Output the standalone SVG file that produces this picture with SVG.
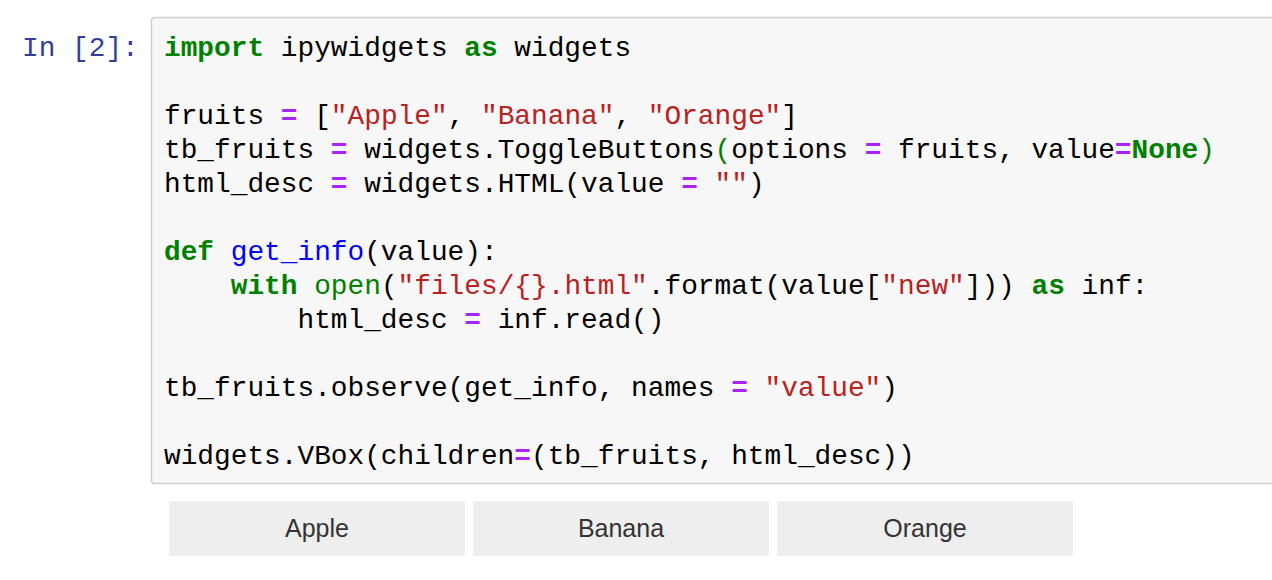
<svg xmlns="http://www.w3.org/2000/svg" width="1272" height="580" viewBox="0 0 1272 580">
<style>
.c{font-family:"Liberation Mono",monospace;font-size:27.8px;fill:#000;white-space:pre}
.k{fill:#008000;font-weight:bold}
.o{fill:#AA22FF;font-weight:bold}
.s{fill:#BA2121}
.f{fill:#0000FF}
.g{fill:#008000}
.btn{fill:#eeeeee}
.bt{font-family:"Liberation Sans",Arial,sans-serif;font-size:25px;fill:#333;text-anchor:middle}
</style>
<rect width="1272" height="580" fill="#fff"/>
<g id="prompt"><text x="22" y="56" class="c" style="fill:#303F9F">In [2]:</text></g>
<g id="cell">
<rect x="151.5" y="17.5" width="1130" height="466" rx="3" fill="#f7f7f7" stroke="#cfcfcf" stroke-width="1.5"/>
<text class="c" xml:space="preserve">
<tspan x="164" y="56"><tspan class="k">import</tspan> ipywidgets <tspan class="k">as</tspan> widgets</tspan>
<tspan x="164" y="124">fruits <tspan class="o">=</tspan> [<tspan class="s">"Apple"</tspan>, <tspan class="s">"Banana"</tspan>, <tspan class="s">"Orange"</tspan>]</tspan>
<tspan x="164" y="158">tb_fruits <tspan class="o">=</tspan> widgets.ToggleButtons<tspan class="g">(</tspan>options <tspan class="o">=</tspan> fruits, value<tspan class="o">=</tspan><tspan class="k">None</tspan><tspan class="g">)</tspan></tspan>
<tspan x="164" y="192">html_desc <tspan class="o">=</tspan> widgets.HTML(value <tspan class="o">=</tspan> <tspan class="s">""</tspan>)</tspan>
<tspan x="164" y="260"><tspan class="k">def</tspan> <tspan class="f">get_info</tspan>(value):</tspan>
<tspan x="164" y="294">    <tspan class="k">with</tspan> <tspan class="g">open</tspan>(<tspan class="s">"files/{}.html"</tspan>.format(value[<tspan class="s">"new"</tspan>])) <tspan class="k">as</tspan> inf:</tspan>
<tspan x="164" y="328">        html_desc <tspan class="o">=</tspan> inf.read()</tspan>
<tspan x="164" y="396">tb_fruits.observe(get_info, names <tspan class="o">=</tspan> <tspan class="s">"value"</tspan>)</tspan>
<tspan x="164" y="464">widgets.VBox(children<tspan class="o">=</tspan>(tb_fruits, html_desc))</tspan>
</text>
</g>
<g id="btn-apple"><rect class="btn" x="169" y="501" width="296" height="55"/><text class="bt" x="317" y="537">Apple</text></g>
<g id="btn-banana"><rect class="btn" x="473" y="501" width="296" height="55"/><text class="bt" x="621" y="537">Banana</text></g>
<g id="btn-orange"><rect class="btn" x="777" y="501" width="296" height="55"/><text class="bt" x="925" y="537">Orange</text></g>
<g id="connectors"/>
</svg>
